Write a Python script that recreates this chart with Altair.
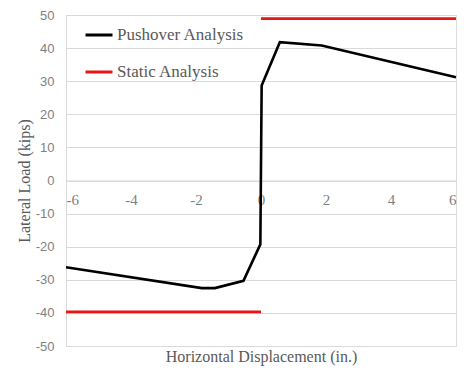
import altair as alt
import pandas as pd

# Pushover analysis curve (displacement in., lateral load kips)
push_x = [-6.0, -1.82, -1.42, -0.54, -0.02, 0.02, 0.58, 1.87, 6.0]
push_y = [-26.2, -32.5, -32.5, -30.3, -19.3, 28.7, 41.8, 40.8, 31.2]

# Static analysis: two horizontal segments
static_neg_x = [-6.0, 0.0]
static_neg_y = [-39.7, -39.7]
static_pos_x = [0.0, 6.0]
static_pos_y = [48.9, 48.9]

series_names = ["Pushover Analysis", "Static Analysis"]
series_colors = ["#000000", "#e81515"]

x_ticks = [-6, -4, -2, 0, 2, 4, 6]
y_ticks = [-50, -40, -30, -20, -10, 0, 10, 20, 30, 40, 50]

rows = []
i = 0
for x, y in zip(push_x, push_y):
    rows.append({"x": x, "y": y, "series": series_names[0], "seg": "p", "idx": i}); i += 1
for x, y in zip(static_neg_x, static_neg_y):
    rows.append({"x": x, "y": y, "series": series_names[1], "seg": "s1", "idx": i}); i += 1
for x, y in zip(static_pos_x, static_pos_y):
    rows.append({"x": x, "y": y, "series": series_names[1], "seg": "s2", "idx": i}); i += 1
df = pd.DataFrame(rows)

serif = "Liberation Serif"
sans = "Liberation Sans"

chart = alt.Chart(df).mark_line(strokeWidth=2.6).encode(
    x=alt.X("x:Q",
            scale=alt.Scale(domain=[-6, 6], nice=False, zero=False),
            axis=alt.Axis(values=x_ticks, labelExpr="datum.value + ''", grid=False, ticks=False,
                          offset=-165.5, domainColor="#d9d9d9", domainWidth=1,
                          labelFont=serif, labelFontSize=15, labelColor="#7f7f7f",
                          labelPadding=12,
                          title="Horizontal Displacement (in.)",
                          titleFont=serif, titleFontSize=16, titleFontWeight="normal",
                          titleColor="#595959", titleY=176, titleBaseline="middle")),
    y=alt.Y("y:Q",
            scale=alt.Scale(domain=[-50, 50], nice=False, zero=False),
            axis=alt.Axis(values=y_ticks, labelExpr="datum.value + ''",
                          grid=True, gridColor="#d9d9d9", gridWidth=1,
                          ticks=False, domainColor="#d9d9d9", domainWidth=1,
                          labelFont=sans, labelFontSize=13, labelColor="#7f7f7f",
                          labelPadding=12,
                          title="Lateral Load (kips)",
                          titleFont=serif, titleFontSize=16, titleFontWeight="normal",
                          titleColor="#595959", titlePadding=3)),
    color=alt.Color("series:N",
                    scale=alt.Scale(domain=series_names, range=series_colors),
                    legend=alt.Legend(orient="none", legendX=18, legendY=5, title=None,
                                      symbolType="stroke", symbolSize=729,
                                      symbolStrokeWidth=3, labelFont=serif,
                                      labelFontSize=17, labelColor="#595959",
                                      labelOffset=3, rowPadding=14)),
    detail="seg:N",
    order=alt.Order("idx:Q"),
).properties(
    width=390, height=331,
    autosize=alt.AutoSizeParams(type="none"),
    padding={"left": 58, "top": 7, "right": 10, "bottom": 30},
).configure_view(strokeWidth=0).configure(background="white")

chart.save("out.html", embed_options={"renderer": "svg", "actions": False})
